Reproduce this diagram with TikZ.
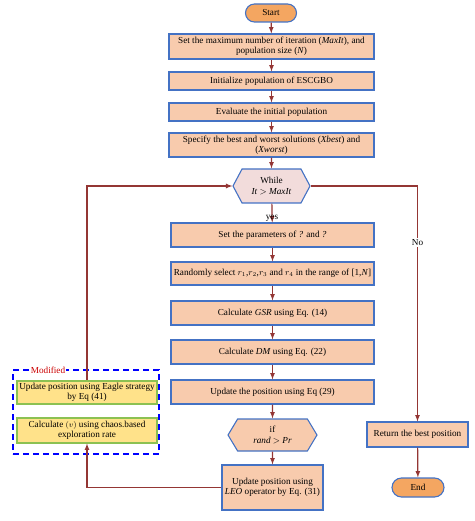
\documentclass[tikz,border=0pt]{standalone}
\usepackage{fontspec}
\setmainfont{Liberation Serif}
\usetikzlibrary{shapes.symbols,shapes.misc}
\definecolor{boxfill}{HTML}{F8CBAD}
\definecolor{boxline}{HTML}{4472C4}
\definecolor{termfill}{HTML}{F4A661}
\definecolor{loopfill}{HTML}{F2DCDB}
\definecolor{flowred}{HTML}{943634}
\definecolor{modfill}{HTML}{FFE28A}
\definecolor{modline}{HTML}{8CC152}
\begin{document}
\begin{tikzpicture}[x=1pt,y=-1pt,font=\fontsize{9.2}{10.4}\selectfont]
\tikzset{etape/.style={draw=boxline, fill=boxfill, line width=1.1pt, align=center, minimum width=205pt, inner sep=1pt},
  borne/.style={draw=boxline, fill=termfill, line width=1.1pt, rounded rectangle, minimum width=53pt, minimum height=18pt, inner sep=1pt},
  test/.style={draw=boxline, line width=1.1pt, signal, signal to=west and east, align=center, inner sep=1pt},
  modif/.style={draw=modline, fill=modfill, line width=1.1pt, align=center, minimum width=140pt, inner sep=1pt},
  fleche/.style={draw=flowred, line width=1.2pt, -latex}}
\useasboundingbox (0,0) rectangle (474,521);
% main column
\node[borne] (Start) at (271,13) {Start};
\node[etape, minimum height=25pt] (V1) at (271.5,46.5) {Set the maximum number of iteration (\textit{MaxIt}), and\\population size (\textit{N})};
\node[etape, minimum height=18pt] (V2) at (271.5,81) {Initialize population of ESCGBO};
\node[etape, minimum height=18pt] (V3) at (271.5,112) {Evaluate the initial population};
\node[etape, minimum height=24pt] (V4) at (271.5,145) {Specify the best and worst solutions (\textit{Xbest}) and\\(\textit{Xworst})};
\node[test, fill=loopfill, minimum width=77pt, minimum height=34pt, signal pointer angle=124] (While) at (271.5,186) {While\\\textit{It} $>$ \textit{MaxIt}};
\node[etape, minimum width=203pt, minimum height=24pt] (P1) at (272.5,235) {Set the parameters of \textit{?} and \textit{?}};
\node[etape, minimum width=203pt, minimum height=23pt] (P2) at (272.5,273.5) {Randomly select $r_1$,$r_2$,$r_3$ and $r_4$ in the range of [1,\textit{N}]};
\node[etape, minimum width=203pt, minimum height=24pt] (P3) at (272.5,313) {Calculate \textit{GSR} using Eq. (14)};
\node[etape, minimum width=203pt, minimum height=24pt] (P4) at (272.5,352) {Calculate \textit{DM} using Eq. (22)};
\node[etape, minimum width=203pt, minimum height=24pt] (P5) at (272.5,392) {Update the position using Eq (29)};
\node[test, fill=boxfill, minimum width=89pt, minimum height=32pt, signal pointer angle=118] (If) at (272.5,435) {if\\\textit{rand} $>$ \textit{Pr}};
\node[etape, minimum width=101pt, minimum height=45pt] (Leo) at (272.5,487.5) {Update position using\\\textit{LEO} operator by Eq. (31)};
% right column
\node[etape, minimum width=101pt, minimum height=25pt] (Ret) at (417.5,434.5) {Return the best position};
\node[borne, minimum width=54pt, minimum height=19pt] (End) at (418,487.5) {End};
% modified part
\node[draw=blue, dashed, dash pattern=on 6pt off 4pt, line width=1.1pt, minimum width=146pt, minimum height=84pt] (Mod) at (86,412) {};
\node[fill=white, text=red!80!black, inner sep=1pt] (ModLab) at (48,370) {Modified};
\node[modif, minimum height=23pt] (Eagle) at (87,392.5) {Update position using Eagle strategy\\by Eq (41)};
\node[modif, minimum height=25pt] (Calc) at (87,430.5) {Calculate {\footnotesize$(v)$} using chaos.based\\exploration rate};
% connectors
\draw[fleche] (Start) -- (V1);
\draw[fleche] (V1) -- (V2);
\draw[fleche] (V2) -- (V3);
\draw[fleche] (V3) -- (V4);
\draw[fleche] (V4) -- (While);
\draw[fleche] (While) -- (P1);
\draw[fleche] (P1) -- (P2);
\draw[fleche] (P2) -- (P3);
\draw[fleche] (P3) -- (P4);
\draw[fleche] (P4) -- (P5);
\draw[fleche] (P5) -- (If);
\draw[fleche] (If) -- (Leo);
\draw[fleche] (Leo.west) -| (Calc.south);
\draw[fleche] (Eagle.north) |- (While.west);
\draw[fleche] (While.east) -| node[pos=0.62, fill=white, inner sep=1pt, text=black] {No} (Ret.north);
\draw[fleche] (Ret) -- (End);
\node[inner sep=0pt] (Yes) at (272,218) {yes};
\end{tikzpicture}
\end{document}
